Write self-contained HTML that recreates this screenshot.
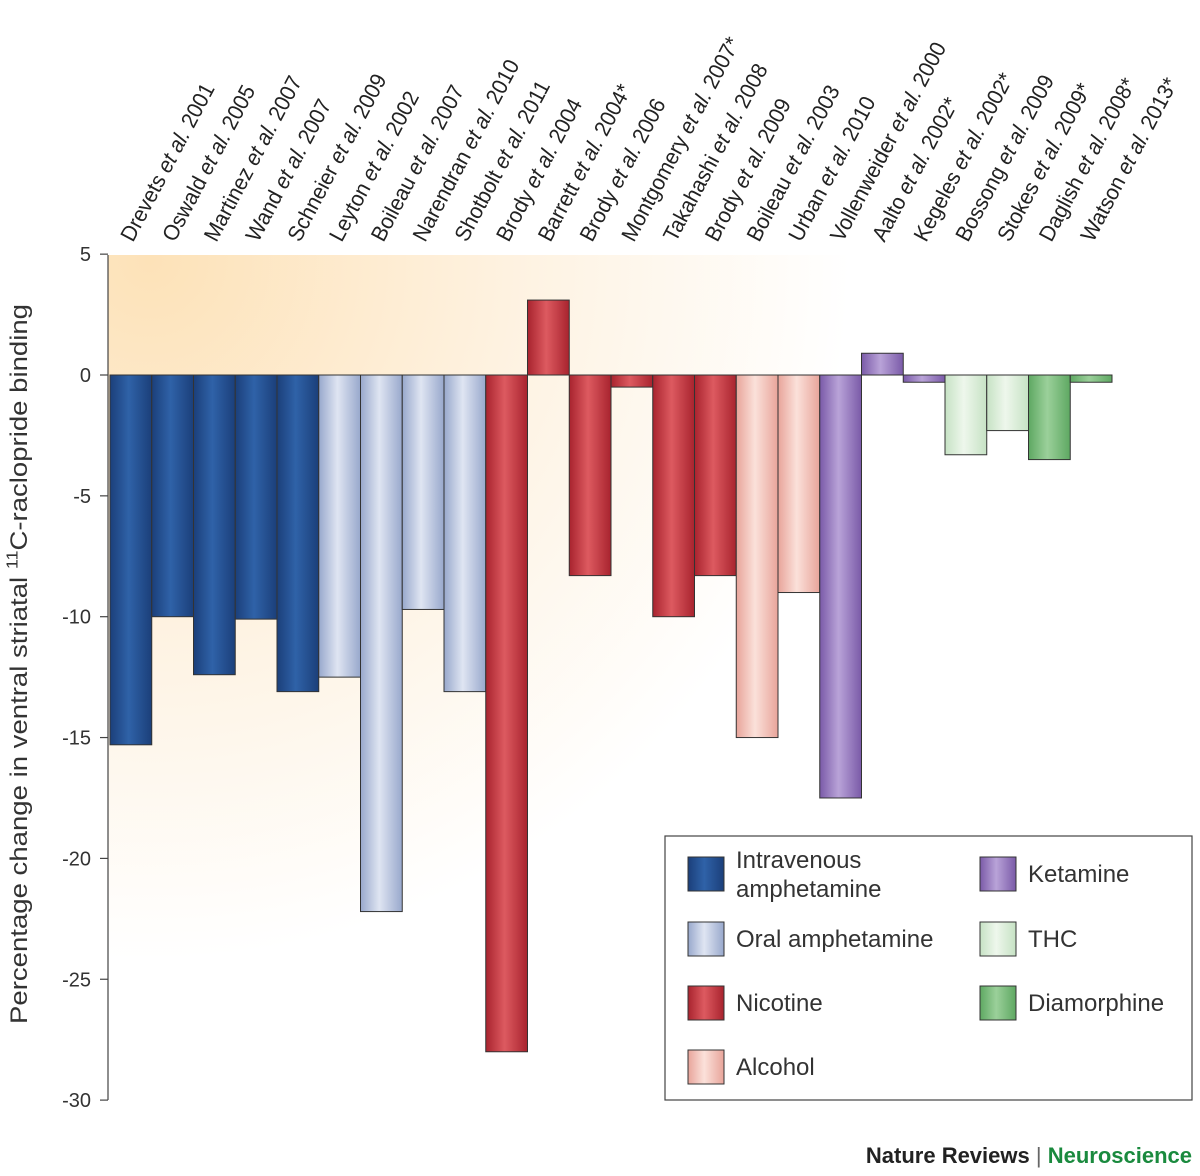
<!DOCTYPE html>
<html><head><meta charset="utf-8">
<style>
body{margin:0;background:#fff;font-family:"Liberation Sans",sans-serif;}
svg{display:block}
</style></head>
<body>
<svg id="chart" width="1200" height="1176" viewBox="0 0 1200 1176" xmlns="http://www.w3.org/2000/svg">
<defs>
<radialGradient id="bg" cx="150" cy="260" r="700" gradientUnits="userSpaceOnUse">
<stop offset="0" stop-color="#fde2b8"/><stop offset="0.55" stop-color="#fef3e3"/><stop offset="1" stop-color="#ffffff"/>
</radialGradient>
</defs>
<rect x="108" y="255" width="1010" height="845" fill="url(#bg)"/>
<g id="bars"></g>
<g id="axis"></g>
<g id="labels"></g>
<text transform="translate(27,664) rotate(-90) scale(1,1.05)" text-anchor="middle" font-size="23" fill="#333" textLength="720" lengthAdjust="spacingAndGlyphs">Percentage change in ventral striatal <tspan font-size="15" dy="-9">11</tspan><tspan dy="9">C-raclopride binding</tspan></text>
<g id="legend">
<rect x="665" y="836" width="527" height="264" fill="#fff" stroke="#444" stroke-width="1.2"/>
</g>
<text x="1192" y="1163" text-anchor="end" font-size="22" font-weight="bold" fill="#222">Nature Reviews <tspan fill="#666" font-weight="normal">|</tspan> <tspan fill="#1a8a3e">Neuroscience</tspan></text>
</svg>
<script>
const studies=["Drevets","Oswald","Martinez","Wand","Schneier","Leyton","Boileau","Narendran","Shotbolt","Brody","Barrett","Brody","Montgomery","Takahashi","Brody","Boileau","Urban","Vollenweider","Aalto","Kegeles","Bossong","Stokes","Daglish","Watson"];
const years=["2001","2005","2007","2007","2009","2002","2007","2010","2011","2004","2004*","2006","2007*","2008","2009","2003","2010","2000","2002*","2002*","2009","2009*","2008*","2013*"];
const values=[-15.3,-10,-12.4,-10.1,-13.1,-12.5,-22.2,-9.7,-13.1,-28,3.1,-8.3,-0.5,-10,-8.3,-15,-9,-17.5,0.9,-0.3,-3.3,-2.3,-3.5,-0.3];
const groups=[0,0,0,0,0,1,1,1,1,2,2,2,2,2,2,3,3,4,4,4,5,5,6,6];
const groupNames=["Intravenous amphetamine","Oral amphetamine","Nicotine","Alcohol","Ketamine","THC","Diamorphine"];
const yTicks=[5,0,-5,-10,-15,-20,-25,-30];
const colors=[["#1b3f7a","#2f62a8"],["#98a8cc","#dfe5f2"],["#a8232e","#dd5a60"],["#e8a49a","#fbe1da"],["#7a5aa8","#b9a3d8"],["#c6e2c4","#eef7ec"],["#5ea862","#9bd09a"]];
const NS="http://www.w3.org/2000/svg";
const svg=document.getElementById('chart');
const defs=svg.querySelector('defs');
colors.forEach((c,i)=>{const g=document.createElementNS(NS,'linearGradient');g.id='g'+i;
 [[0,c[0]],[0.45,c[1]],[1,c[0]]].forEach(s=>{const st=document.createElementNS(NS,'stop');st.setAttribute('offset',s[0]);st.setAttribute('stop-color',s[1]);g.appendChild(st);});defs.appendChild(g);});
const y=v=>375-v*24.17;
const x0=110,bw=41.75;
const x=i=>x0+i*bw;
function mk(tag,attrs,parent){const e=document.createElementNS(NS,tag);for(const k in attrs)e.setAttribute(k,attrs[k]);parent.appendChild(e);return e;}
const gb=document.getElementById('bars'),ga=document.getElementById('axis'),gl=document.getElementById('labels');
values.forEach((v,i)=>{
 const r=mk('rect',{x:x(i),y:Math.min(y(v),y(0)),width:bw,height:Math.abs(y(v)-y(0)),fill:'url(#g'+groups[i]+')',stroke:'#333','stroke-width':1},gb);
 
 
 const t=mk('text',{transform:`translate(${x(i)+bw/2+2},243) rotate(-62) scale(0.95,1)`,'font-size':22,fill:'#222'},gl);
 
 
 t.innerHTML=studies[i]+' <tspan font-style="italic">et al.</tspan> '+years[i];
});
const ax=mk('line',{x1:108,y1:255,x2:108,y2:1100,stroke:'#444','stroke-width':1.2},ga);


yTicks.forEach(v=>{
 mk('line',{x1:100,x2:108,y1:y(v),y2:y(v),stroke:'#444','stroke-width':1.2},ga);
 const t=mk('text',{x:91,y:y(v)+7,'text-anchor':'end','font-size':20,fill:'#333'},ga);
 
 
 t.textContent=v;
});
const lg=document.getElementById('legend');
const pos=[[688,874],[688,939],[688,1003],[688,1067],[980,874],[980,939],[980,1003]];
groupNames.forEach((n,i)=>{
 const [lx,ly]=pos[i];
 mk('rect',{x:lx,y:ly-17,width:36,height:34,fill:'url(#g'+i+')',stroke:'#333','stroke-width':1},lg);
 const t=mk('text',{x:lx+48,y:ly+8,'font-size':24,fill:'#333'},lg);
 
 
 if(i===0){t.setAttribute('y',ly-6);t.innerHTML='Intravenous<tspan x="'+(lx+48)+'" dy="29">amphetamine</tspan>';}
 else t.textContent=n;
});
</script>
</body></html>
